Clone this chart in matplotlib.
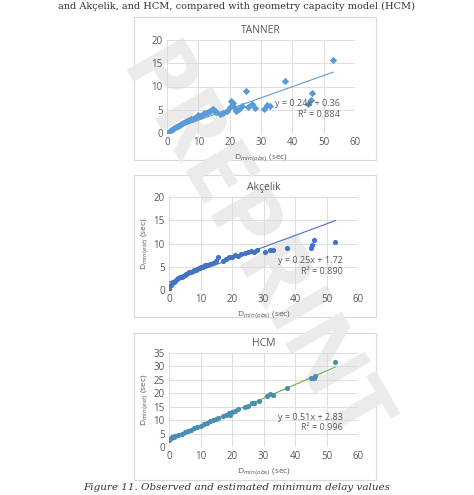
import matplotlib.pyplot as plt
import numpy as np

# observed minimum delay (x) and estimated (y) for each model
tanner_x = [0.3, 0.8, 1.2, 1.8, 2.3, 2.8, 3.4, 4.0, 4.6, 5.2, 5.8, 6.3, 7.0, 7.6, 8.2, 8.8, 9.4, 10.0,
            10.6, 11.2, 11.8, 12.4, 13.0, 13.6, 14.2, 14.8, 15.2, 15.6, 17.0, 18.0, 19.0, 20.0, 20.5,
            21.0, 21.5, 22.0, 23.0, 24.0, 25.2, 26.0, 27.0, 28.0, 31.0, 32.0, 33.0, 37.5, 45.0, 46.0,
            46.2, 53.0]
tanner_y = [0.1, 0.4, 0.6, 0.9, 1.1, 1.3, 1.5, 1.7, 2.0, 2.2, 2.3, 2.6, 2.8, 3.0, 3.1, 3.3, 3.5, 3.8,
            3.6, 3.9, 4.2, 4.3, 4.5, 4.7, 5.0, 5.2, 4.8, 4.5, 4.0, 4.3, 4.8, 5.5, 6.9, 6.5, 5.5, 4.8,
            5.2, 5.8, 9.1, 5.5, 6.2, 5.3, 5.2, 6.0, 5.8, 11.1, 6.2, 7.1, 8.5, 15.8]
akcelik_x = [0.1, 0.5, 1.0, 1.5, 2.0, 2.5, 3.0, 3.5, 4.0, 4.5, 5.0, 5.5, 6.0, 6.5, 7.0, 7.5, 8.0, 8.5,
             9.0, 9.5, 10.0, 10.5, 11.0, 11.5, 12.0, 13.0, 14.0, 15.0, 15.5, 17.0, 18.0, 19.0, 20.0,
             21.0, 22.0, 23.0, 24.0, 25.0, 26.0, 27.0, 28.0, 30.5, 32.0, 33.0, 37.5, 45.0, 45.5, 46.0,
             52.8]
akcelik_y = [0.3, 1.0, 1.5, 1.8, 2.0, 2.3, 2.5, 2.7, 2.9, 3.1, 3.2, 3.4, 3.6, 3.8, 3.9, 4.1, 4.3, 4.4,
             4.6, 4.8, 4.9, 5.0, 5.1, 5.3, 5.4, 5.6, 5.9, 6.2, 7.0, 6.3, 6.6, 7.0, 7.2, 7.5, 7.4, 7.8,
             8.0, 8.2, 8.3, 8.1, 8.6, 8.2, 8.6, 8.5, 9.0, 9.1, 9.6, 10.7, 10.4]
hcm_x = [0.1, 0.5, 1.0, 1.5, 2.0, 3.0, 4.0, 5.0, 6.0, 7.0, 8.0, 9.0, 10.0, 11.0, 12.0, 13.0, 14.0,
         15.0, 15.5, 17.0, 18.0, 19.0, 19.5, 20.0, 21.0, 22.0, 24.0, 25.0, 26.5, 27.0, 28.5, 31.0,
         32.0, 33.0, 37.5, 45.0, 46.0, 46.2, 52.8]
hcm_y = [2.5, 3.2, 3.6, 3.9, 4.2, 4.6, 5.0, 5.5, 6.0, 6.4, 7.0, 7.5, 8.0, 8.5, 9.0, 9.5, 10.0, 10.5,
         10.8, 11.5, 12.0, 12.5, 12.0, 13.0, 13.5, 14.0, 14.8, 15.3, 16.5, 16.2, 17.2, 19.0, 19.6,
         19.5, 22.0, 25.8, 25.8, 26.3, 31.5]

panels = [
    ("TANNER", tanner_x, tanner_y, (0.24, 0.36), "y = 0.24x + 0.36\nR² = 0.884",
     20, 5, "#5b9bd5", "D", "#5b9bd5", None),
    ("Akçelik", akcelik_x, akcelik_y, (0.25, 1.72), "y = 0.25x + 1.72\nR² = 0.890",
     20, 5, "#4472c4", "o", "#4472c4", "D$_{min(est)}$ (sec)"),
    ("HCM", hcm_x, hcm_y, (0.51, 2.83), "y = 0.51x + 2.83\nR² = 0.996",
     35, 5, "#4a8fb0", "o", "#70ad47", "D$_{min(est)}$ (sec)"),
]
# axes rectangles in pixels: left, bottom(from top), right, top(from top)
boxes = [(167, 133, 355, 40), (169, 290, 358, 197), (169, 447, 358, 353)]
frames = [(134, 17, 376, 160), (134, 175, 376, 317), (134, 333, 376, 480)]

W, H = 474, 495
fig = plt.figure(figsize=(W / 100, H / 100), dpi=100)
plt.rcParams['font.family'] = ['Open Sans', 'DejaVu Sans']

# background layer with watermark and white panel frames
bg = fig.add_axes([0, 0, 1, 1], zorder=-1)
bg.set_xlim(0, W)
bg.set_ylim(H, 0)
bg.axis("off")
bg.text(250, 250, "PREPRINT", ha="center", va="center", fontsize=66, rotation=-60,
        color="#ebebeb", fontweight="bold")
for (fl, ft, fr, fb) in frames:
    bg.add_patch(plt.Rectangle((fl, ft), fr - fl, fb - ft, facecolor="white",
                               edgecolor="#d9d9d9", linewidth=0.8))

for (title, xs, ys, coef, eq, ymax, ystep, pc, mk, lc, ylab), (l, b, r, t) in zip(panels, boxes):
    ax = fig.add_axes([l / W, 1 - b / H, (r - l) / W, (b - t) / H])
    ax.patch.set_alpha(0)
    ax.scatter(xs, ys, s=14, marker=mk, color=pc, zorder=3, linewidths=0)
    lx = np.array([0, max(xs)])
    ax.plot(lx, coef[0] * lx + coef[1], color=lc, linewidth=0.8, zorder=2)
    ax.set_xlim(0, 60)
    ax.set_ylim(0, ymax)
    ax.set_xticks(range(0, 61, 10))
    ax.set_yticks(range(0, ymax + 1, ystep))
    ax.grid(color="#d9d9d9", linewidth=0.6)
    for s in ax.spines.values():
        s.set_visible(False)
    ax.tick_params(length=0, labelsize=7, colors="#595959", pad=3)
    ax.set_title(title, fontsize=7.5, color="#595959", pad=5)
    ax.set_xlabel("D$_{min(obs)}$ (sec)", fontsize=6, color="#595959", labelpad=3)
    if ylab:
        ax.set_ylabel(ylab, fontsize=6, color="#595959", labelpad=2)
    ax.text(0.92, 0.26, eq, transform=ax.transAxes, ha="right", va="center",
            fontsize=6.5, color="#595959", linespacing=1.2)

fig.text(0.5, 1 - 6 / H, "and Akçelik, and HCM, compared with geometry capacity model (HCM)",
         ha="center", va="center", fontsize=7, color="#333333", family="DejaVu Serif")
fig.text(0.5, 1 - 488 / H, "Figure 11. Observed and estimated minimum delay values",
         ha="center", va="center", fontsize=7.5, style="italic", color="#333333", family="DejaVu Serif")

fig.savefig("out.png", dpi=100, facecolor="white")
